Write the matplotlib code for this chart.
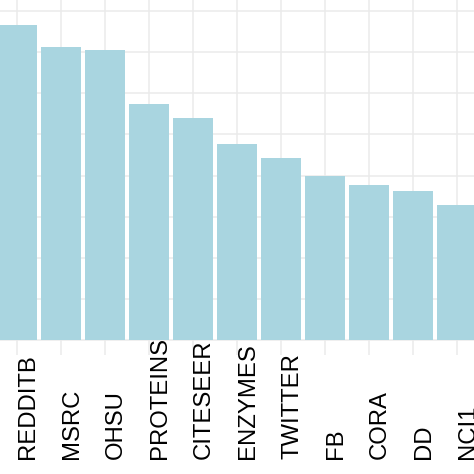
import matplotlib
matplotlib.use("Agg")
import matplotlib.pyplot as plt

datasets = ["REDDITB", "MSRC", "OHSU", "PROTEINS", "CITESEER", "ENZYMES",
            "TWITTER", "FB", "CORA", "DD", "NCI1"]
scores = [7.66, 7.13, 7.06, 5.74, 5.40, 4.77, 4.43, 3.99, 3.77, 3.63, 3.28]

plt.rcParams['font.family'] = ['Liberation Sans', 'DejaVu Sans']

fig = plt.figure(figsize=(4.74, 4.74), dpi=100)
# panel is cropped: bars run off the left/right edges of the image
ax = fig.add_axes([0, 1 - 355 / 474, 1, 355 / 474])

x = list(range(len(datasets)))
ax.bar(x, scores, width=0.9, color="#A9D5E0", zorder=2)

ax.set_xlim(-0.386, len(datasets) - 1 + 0.386)
ax.set_ylim(-0.365, 8.27)
ax.set_yticks(range(0, 9))
ax.set_yticklabels([])
ax.set_xticks(x)
ax.set_xticklabels(datasets, rotation=90, fontsize=17.2, va="bottom", ha="left")
ax.tick_params(axis="x", length=0, pad=75)
ax.tick_params(axis="y", length=0)
ax.grid(True, color="#EBEBEB", linewidth=1.1, zorder=0)
ax.set_axisbelow(True)
for s in ax.spines.values():
    s.set_visible(False)

fig.savefig("out.png", dpi=100)
